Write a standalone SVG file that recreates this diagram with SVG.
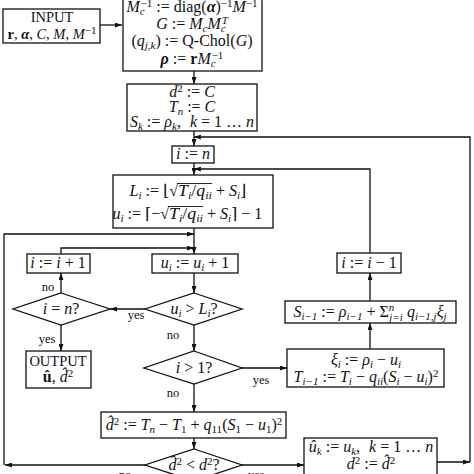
<svg xmlns="http://www.w3.org/2000/svg" width="474" height="474" viewBox="0 0 474 474">
<style>
.bx{fill:#fff;stroke:#111;stroke-width:1.3}
.ln{fill:none;stroke:#111;stroke-width:1.3}
.t{font-family:"Liberation Serif","DejaVu Serif",serif;font-size:16px;fill:#111;text-anchor:middle}
.st{text-anchor:start}
.en{text-anchor:end}
.k{font-size:14.5px}
.l{font-family:"Liberation Serif","DejaVu Serif",serif;font-size:12.5px;fill:#111;text-anchor:middle}
.i{font-style:italic}
.b{font-weight:bold}
.s{font-size:11px}
.ov{stroke:#111;stroke-width:0.9}
</style>
<defs>
<marker id="a" viewBox="0 0 7 5" refX="7" refY="2.5" markerWidth="7" markerHeight="5" markerUnits="userSpaceOnUse" orient="auto"><path d="M0,0 L7,2.5 L0,5 z" fill="#111"/></marker>
</defs>
<rect width="474" height="474" fill="#fff"/>
<g id="connectors" class="ln">
<path d="M100,25 H122" marker-end="url(#a)"/>
<path d="M194,71 V84" marker-end="url(#a)"/>
<path d="M194,131 V146" marker-end="url(#a)"/>
<path d="M194,163 V175" marker-end="url(#a)"/>
<path d="M194,228 V254" marker-end="url(#a)"/>
<path d="M194,273 V293" marker-end="url(#a)"/>
<path d="M145,309 H110" marker-end="url(#a)"/>
<path d="M61,293 V273" marker-end="url(#a)"/>
<path d="M61,254 V248 H194" marker-end="url(#a)"/>
<path d="M194,325 V351" marker-end="url(#a)"/>
<path d="M61,325 V351" marker-end="url(#a)"/>
<path d="M242,368 H287" marker-end="url(#a)"/>
<path d="M370,349 V323" marker-end="url(#a)"/>
<path d="M370,301 V273" marker-end="url(#a)"/>
<path d="M370,253 V169 H194" marker-end="url(#a)"/>
<path d="M194,383 V412" marker-end="url(#a)"/>
<path d="M194,438 V449" marker-end="url(#a)"/>
<path d="M145,465 H5" marker-end="url(#a)"/>
<path d="M4,465 V234 H194" marker-end="url(#a)"/>
<path d="M242,465 H304" marker-end="url(#a)"/>
<path d="M437,462 H470" marker-end="url(#a)"/>
<path d="M470,462 V137 H194" marker-end="url(#a)"/>
</g>
<g id="input">
<rect class="bx" x="3" y="9" width="97" height="34"/>
<text class="t k" x="52" y="22">INPUT</text>
<text class="t k" x="52" y="39"><tspan class="b">r</tspan>, <tspan class="b i">α</tspan>, <tspan class="i">C</tspan>, <tspan class="i">M</tspan>, <tspan class="i">M</tspan><tspan class="s" baseline-shift="5">−1</tspan></text>
</g>
<g id="precompute">
<rect class="bx" x="123" y="-1" width="139" height="72"/>
<text class="t" x="192" y="12"><tspan class="i">M</tspan><tspan class="s i" baseline-shift="-3">c</tspan><tspan class="s" dx="-4" baseline-shift="5">−1</tspan> := diag(<tspan class="b i">α</tspan>)<tspan class="s" baseline-shift="5">−1</tspan><tspan class="i">M</tspan><tspan class="s" baseline-shift="5">−1</tspan></text>
<text class="t" x="192" y="29"><tspan class="i">G</tspan> := <tspan class="i">M</tspan><tspan class="s i" baseline-shift="-3">c</tspan><tspan class="i">M</tspan><tspan class="s i" baseline-shift="-3">c</tspan><tspan class="s i" dx="-4" baseline-shift="5">T</tspan></text>
<text class="t" x="192" y="46">(<tspan class="i">q</tspan><tspan class="s i" baseline-shift="-3">j,k</tspan>) := Q-Chol(<tspan class="i">G</tspan>)</text>
<text class="t" x="192" y="64"><tspan class="b i">ρ</tspan> := <tspan class="b">r</tspan><tspan class="i">M</tspan><tspan class="s i" baseline-shift="-3">c</tspan><tspan class="s" dx="-4" baseline-shift="5">−1</tspan></text>
</g>
<g id="init">
<rect class="bx" x="127" y="84" width="130" height="47"/>
<text class="t" x="192" y="97"><tspan class="i">d</tspan><tspan class="s" baseline-shift="5">2</tspan> := <tspan class="i">C</tspan></text>
<text class="t" x="192" y="112"><tspan class="i">T</tspan><tspan class="s i" baseline-shift="-3">n</tspan> := <tspan class="i">C</tspan></text>
<text class="t" x="192" y="127"><tspan class="i">S</tspan><tspan class="s i" baseline-shift="-3">k</tspan> := <tspan class="i">ρ</tspan><tspan class="s i" baseline-shift="-3">k</tspan>,<tspan class="i" dx="9">k</tspan> = 1 … <tspan class="i">n</tspan></text>
</g>
<g id="set-i">
<rect class="bx" x="172" y="146" width="42" height="17"/>
<text class="t" x="193" y="159"><tspan class="i">i</tspan> := <tspan class="i">n</tspan></text>
</g>
<g id="bounds">
<rect class="bx" x="113" y="175" width="160" height="53"/>
<text class="t en" x="178" y="196"><tspan class="i">L</tspan><tspan class="s i" baseline-shift="-3">i</tspan> := ⌊√</text>
<text class="t st" x="178" y="196" textLength="34" lengthAdjust="spacingAndGlyphs"><tspan class="i">T</tspan><tspan class="s i" baseline-shift="-3">i</tspan>/<tspan class="i">q</tspan><tspan class="s i" baseline-shift="-3">ii</tspan></text>
<text class="t st" x="216" y="196">+ <tspan class="i">S</tspan><tspan class="s i" baseline-shift="-3">i</tspan>⌋</text>
<line class="ov" x1="177" y1="183.5" x2="212" y2="183.5"/>
<text class="t en" x="169" y="219"><tspan class="i">u</tspan><tspan class="s i" baseline-shift="-3">i</tspan> := ⌈−√</text>
<text class="t st" x="169" y="219" textLength="34" lengthAdjust="spacingAndGlyphs"><tspan class="i">T</tspan><tspan class="s i" baseline-shift="-3">i</tspan>/<tspan class="i">q</tspan><tspan class="s i" baseline-shift="-3">ii</tspan></text>
<text class="t st" x="207" y="219">+ <tspan class="i">S</tspan><tspan class="s i" baseline-shift="-3">i</tspan>⌉ − 1</text>
<line class="ov" x1="168" y1="206.5" x2="203" y2="206.5"/>
</g>
<g id="inc-i">
<rect class="bx" x="27" y="254" width="63" height="19"/>
<text class="t" x="58" y="268"><tspan class="i">i</tspan> := <tspan class="i">i</tspan> + 1</text>
</g>
<g id="inc-u">
<rect class="bx" x="152" y="254" width="86" height="19"/>
<text class="t" x="195" y="268"><tspan class="i">u</tspan><tspan class="s i" baseline-shift="-3">i</tspan> := <tspan class="i">u</tspan><tspan class="s i" baseline-shift="-3">i</tspan> + 1</text>
</g>
<g id="dec-i">
<rect class="bx" x="337" y="253" width="64" height="20"/>
<text class="t" x="369" y="268"><tspan class="i">i</tspan> := <tspan class="i">i</tspan> − 1</text>
</g>
<g id="q-in">
<path class="bx" d="M61,293 L110,309 L61,325 L13,309 Z"/>
<text class="t" x="61" y="314"><tspan class="i">i</tspan> = <tspan class="i">n</tspan>?</text>
</g>
<g id="q-ul">
<path class="bx" d="M194,293 L242,309 L194,325 L145,309 Z"/>
<text class="t" x="194" y="314"><tspan class="i">u</tspan><tspan class="s i" baseline-shift="-3">i</tspan> &gt; <tspan class="i">L</tspan><tspan class="s i" baseline-shift="-3">i</tspan>?</text>
</g>
<g id="update-s">
<rect class="bx" x="285" y="301" width="171" height="22"/>
<text class="t" x="370" y="317"><tspan class="i">S</tspan><tspan class="s i" baseline-shift="-3">i−1</tspan> := <tspan class="i">ρ</tspan><tspan class="s i" baseline-shift="-3">i−1</tspan> + Σ<tspan class="s i" baseline-shift="6">n</tspan><tspan class="s i" dx="-5" baseline-shift="-4">j=i</tspan> <tspan class="i">q</tspan><tspan class="s i" baseline-shift="-3">i−1,j</tspan><tspan class="i">ξ</tspan><tspan class="s i" baseline-shift="-3">j</tspan></text>
</g>
<g id="output">
<rect class="bx" x="26" y="351" width="65" height="37"/>
<text class="t k" x="58" y="366">OUTPUT</text>
<text class="t" x="58" y="382"><tspan class="b">û</tspan>, <tspan class="i">d̂</tspan><tspan class="s" baseline-shift="5">2</tspan></text>
</g>
<g id="q-i1">
<path class="bx" d="M194,351 L242,368 L194,384 L144,368 Z"/>
<text class="t" x="194" y="373"><tspan class="i">i</tspan> &gt; 1?</text>
</g>
<g id="update-t">
<rect class="bx" x="287" y="349" width="157" height="38"/>
<text class="t" x="366" y="365"><tspan class="i">ξ</tspan><tspan class="s i" baseline-shift="-3">i</tspan> := <tspan class="i">ρ</tspan><tspan class="s i" baseline-shift="-3">i</tspan> − <tspan class="i">u</tspan><tspan class="s i" baseline-shift="-3">i</tspan></text>
<text class="t" x="366" y="382"><tspan class="i">T</tspan><tspan class="s i" baseline-shift="-3">i−1</tspan> := <tspan class="i">T</tspan><tspan class="s i" baseline-shift="-3">i</tspan> − <tspan class="i">q</tspan><tspan class="s i" baseline-shift="-3">ii</tspan>(<tspan class="i">S</tspan><tspan class="s i" baseline-shift="-3">i</tspan> − <tspan class="i">u</tspan><tspan class="s i" baseline-shift="-3">i</tspan>)<tspan class="s" baseline-shift="5">2</tspan></text>
</g>
<g id="dist">
<rect class="bx" x="101" y="412" width="185" height="26"/>
<text class="t" x="194" y="430"><tspan class="i">d̂</tspan><tspan class="s" baseline-shift="5">2</tspan> := <tspan class="i">T</tspan><tspan class="s i" baseline-shift="-3">n</tspan> − <tspan class="i">T</tspan><tspan class="s" baseline-shift="-3">1</tspan> + <tspan class="i">q</tspan><tspan class="s" baseline-shift="-3">11</tspan>(<tspan class="i">S</tspan><tspan class="s" baseline-shift="-3">1</tspan> − <tspan class="i">u</tspan><tspan class="s" baseline-shift="-3">1</tspan>)<tspan class="s" baseline-shift="5">2</tspan></text>
</g>
<g id="q-d">
<path class="bx" d="M194,449 L242,465 L194,481 L145,465 Z"/>
<text class="t" x="194" y="470"><tspan class="i">d̂</tspan><tspan class="s" baseline-shift="5">2</tspan> &lt; <tspan class="i">d</tspan><tspan class="s" baseline-shift="5">2</tspan>?</text>
</g>
<g id="store">
<rect class="bx" x="304" y="438" width="133" height="45"/>
<text class="t" x="371" y="452"><tspan class="i">û</tspan><tspan class="s i" baseline-shift="-3">k</tspan> := <tspan class="i">u</tspan><tspan class="s i" baseline-shift="-3">k</tspan>,<tspan class="i" dx="9">k</tspan> = 1 … <tspan class="i">n</tspan></text>
<text class="t" x="371" y="469"><tspan class="i">d</tspan><tspan class="s" baseline-shift="5">2</tspan> := <tspan class="i">d̂</tspan><tspan class="s" baseline-shift="5">2</tspan></text>
</g>
<g id="labels">
<text class="l" x="48" y="291">no</text>
<text class="l" x="136" y="319">yes</text>
<text class="l" x="47" y="343">yes</text>
<text class="l" x="173" y="339">no</text>
<text class="l" x="261" y="384">yes</text>
<text class="l" x="173" y="397">no</text>
<text class="l" x="125" y="479">no</text>
<text class="l" x="256" y="479">yes</text>
</g>
</svg>
